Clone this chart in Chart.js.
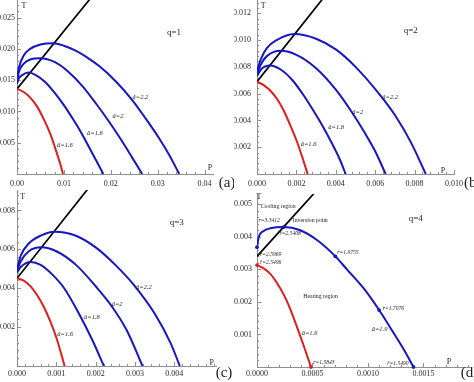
<!DOCTYPE html>
<html><head><meta charset="utf-8">
<script src="https://cdn.jsdelivr.net/npm/chart.js@4.4.1/dist/chart.umd.min.js"></script>
<style>
html,body{margin:0;padding:0;background:#fff;}
body{width:474px;height:382px;position:relative;overflow:hidden;}
canvas{position:absolute;}
</style></head><body>
<canvas id="pa" width="234" height="190" style="left:0px;top:0px"></canvas>
<canvas id="pb" width="240" height="190" style="left:234px;top:0px"></canvas>
<canvas id="pc" width="234" height="192" style="left:0px;top:190px"></canvas>
<canvas id="pd" width="240" height="192" style="left:234px;top:190px"></canvas>
<script>
const BLUE='#1616c2', RED='#e01c1c', BLACK='#000000';
const FONT='"Liberation Serif","Times New Roman",serif';

// ---------- Panel (a): q=1 ----------
const A_XTICKS=[0,0.01,0.02,0.03,0.04];
const A_XLABELS=['0.00','0.01','0.02','0.03','0.04'];
const A_YTICKS=[0.005,0.010,0.015,0.020,0.025];
const A_YLABELS=['0.005','0.010','0.015','0.020','0.025'];
const A_INV=[[0,0.0136],[0.0156,0.0280]];
const A_A16=[[0,0.0136],[0.00143,0.0131],[0.00284,0.0122],[0.00426,0.0108],[0.00568,0.0088],[0.0071,0.0064],[0.00816,0.0041],[0.00923,0.0016],[0.0098,0]];
const A_A18=[[0,0.0144],[0.0004,0.0153],[0.0011,0.0158],[0.0025,0.0162],[0.004,0.0158],[0.006,0.0147],[0.008,0.0130],[0.010,0.0110],[0.012,0.0087],[0.0137,0.0066],[0.0155,0.0041],[0.017,0.0020],[0.0184,0]];
const A_A20=[[0,0.0148],[0.0004,0.0163],[0.0014,0.0176],[0.0028,0.0183],[0.005,0.0185],[0.008,0.0179],[0.011,0.0163],[0.014,0.0140],[0.017,0.0111],[0.0195,0.0085],[0.022,0.0057],[0.0245,0.0027],[0.0267,0]];
const A_A22=[[0,0.0152],[0.0004,0.0170],[0.0014,0.0189],[0.0028,0.0200],[0.005,0.0207],[0.0077,0.0209],[0.010,0.0205],[0.0125,0.0197],[0.015,0.0186],[0.0176,0.0172],[0.0212,0.0147],[0.0247,0.0117],[0.0275,0.0088],[0.0304,0.0056],[0.0325,0.0030],[0.0346,0]];

// ---------- Panel (b): q=2 ----------
const B_XTICKS=[0,0.002,0.004,0.006,0.008,0.010];
const B_XLABELS=['0.000','0.002','0.004','0.006','0.008','0.010'];
const B_YTICKS=[0.002,0.004,0.006,0.008,0.010,0.012];
const B_YLABELS=['0.002','0.004','0.006','0.008','0.010','0.012'];
const B_INV=[[0,0.00689],[0.0034,0.0132]];
const B_A16=[[0,0.00689],[0.00034,0.00664],[0.00068,0.00622],[0.00102,0.0056],[0.00136,0.00472],[0.0017,0.0036],[0.00204,0.00237],[0.0023,0.00125],[0.00257,0]];
const B_A18=[[0,0.0073],[0.0002,0.0078],[0.00065,0.0081],[0.0012,0.0078],[0.0018,0.0070],[0.0024,0.0058],[0.003,0.0044],[0.0034,0.0034],[0.0038,0.0023],[0.0042,0.0011],[0.0045,0]];
const B_A20=[[0,0.0075],[0.0002,0.0082],[0.0005,0.0088],[0.0012,0.0092],[0.002,0.0089],[0.003,0.0079],[0.004,0.0063],[0.0048,0.00465],[0.0055,0.0030],[0.006,0.0017],[0.00653,0]];
const B_A22=[[0,0.0077],[0.0002,0.0086],[0.0005,0.0094],[0.001,0.0100],[0.0019,0.01045],[0.003,0.0101],[0.004,0.0093],[0.005,0.0080],[0.0063,0.0058],[0.007,0.0044],[0.0078,0.0024],[0.00857,0]];

// ---------- Panel (c): q=3 ----------
const C_XTICKS=[0,0.001,0.002,0.003,0.004];
const C_XLABELS=['0.000','0.001','0.002','0.003','0.004'];
const C_YTICKS=[0.002,0.004,0.006,0.008];
const C_YLABELS=['0.002','0.004','0.006','0.008'];
const C_INV=[[0,0.00451],[0.0018,0.0091]];
const C_A16=[[0,0.00451],[0.00017,0.00439],[0.00034,0.00411],[0.00051,0.00365],[0.00068,0.00305],[0.00085,0.00228],[0.00102,0.00134],[0.00121,0]];
const C_A18=[[0,0.0048],[0.0001,0.0051],[0.00035,0.00535],[0.0006,0.0052],[0.0009,0.0047],[0.0012,0.0040],[0.0016,0.0026],[0.0019,0.0014],[0.00221,0]];
const C_A20=[[0,0.0049],[0.0001,0.0054],[0.0003,0.0059],[0.00062,0.0061],[0.001,0.0059],[0.0015,0.0052],[0.002,0.0041],[0.0024,0.0031],[0.0028,0.0018],[0.00319,0]];
const C_A22=[[0,0.0050],[0.0001,0.0057],[0.0003,0.0063],[0.0006,0.0067],[0.00095,0.0069],[0.0015,0.0067],[0.002,0.0061],[0.0025,0.0052],[0.003,0.0041],[0.0035,0.0027],[0.0039,0.0012],[0.00414,0]];

// ---------- Panel (d): q=4 ----------
const D_XTICKS=[0,0.0005,0.0010,0.0015];
const D_XLABELS=['0.0000','0.0005','0.0010','0.0015'];
const D_YTICKS=[0.001,0.002,0.003,0.004,0.005];
const D_YLABELS=['0.001','0.002','0.003','0.004','0.005'];
const D_INV=[[0,0.0034],[0.00055,0.00547]];
const D_A16=[[0,0.00313],[0.00006,0.00303],[0.00012,0.00286],[0.00018,0.00258],[0.00024,0.00223],[0.0003,0.00178],[0.00036,0.00123],[0.00042,0.00066],[0.000486,0]];
const D_A19=[[0,0.00368],[0.000015,0.00398],[0.00006,0.00418],[0.00012,0.00426],[0.00024,0.0043],[0.00039,0.0042],[0.00054,0.0039],[0.000706,0.0034],[0.00081,0.0030],[0.00096,0.00242],[0.0011,0.00175],[0.00123,0.00105],[0.00132,0.00055],[0.00141,0]];
const D_RED_PTS=[[0,0.00313],[0.000486,0]];
const D_BLUE_PTS=[[0,0.00368],[0.00024,0.0043],[0.000706,0.0034],[0.0011,0.00175],[0.00141,0]];

function xy(arr){return arr.map(([x,y])=>({x,y}));}

function marks(ticks, minor, max){
  const out=ticks.map(v=>[v,true]);
  const n=Math.floor(max/minor+1e-6);
  for(let k=1;k<=n;k++){
    const v=k*minor;
    if(!ticks.some(t=>Math.abs(t-v)<minor*0.1)) out.push([v,false]);
  }
  return out;
}

function buildPanel(spec){
  const cv=document.getElementById(spec.id);
  const W=cv.width,H=cv.height,A=spec.area;
  const datasets=spec.series.map(s=>({data:xy(s.data),borderColor:s.color,borderWidth:s.width,
    showLine:true,pointRadius:0,fill:false,cubicInterpolationMode:s.straight?'default':'monotone',tension:0}));
  (spec.dots||[]).forEach(d=>datasets.push({data:xy(d.data),showLine:false,pointRadius:1.9,
    pointBackgroundColor:d.color,pointBorderWidth:0,clip:false}));
  const tickPlugin={id:'tk'+spec.id,beforeDatasetsDraw(chart){
    const {ctx,chartArea:ca,scales:{x,y}}=chart;
    ctx.save();ctx.strokeStyle='#8f8f8f';ctx.lineWidth=1;ctx.beginPath();
    marks(spec.x.ticks,spec.x.minor,spec.x.max).forEach(([v,mj])=>{
      const px=Math.round(x.getPixelForValue(v))+0.5;
      ctx.moveTo(px,ca.bottom);ctx.lineTo(px,ca.bottom-(mj?4:2.2));});
    marks(spec.y.ticks,spec.y.minor,spec.y.max).forEach(([v,mj])=>{
      const py=Math.round(y.getPixelForValue(v))+0.5;
      ctx.moveTo(ca.left,py);ctx.lineTo(ca.left+(mj?4:2.2),py);});
    ctx.stroke();ctx.restore();}};
  const textPlugin={id:'tx'+spec.id,afterDraw(chart){
    const ctx=chart.ctx;ctx.save();ctx.textBaseline='middle';
    spec.texts.forEach(t=>{ctx.font=t.f;ctx.fillStyle=t.c||'#1e1e1e';ctx.textAlign=t.a||'left';ctx.fillText(t.s,t.x,t.y);});
    ctx.restore();}};
  new Chart(cv,{type:'scatter',data:{datasets},
    options:{responsive:false,animation:false,devicePixelRatio:1,
      layout:{padding:{left:0,top:A.t,right:W-A.r,bottom:0}},
      plugins:{legend:{display:false},tooltip:{enabled:false}},
      scales:{
        x:{type:'linear',min:0,max:spec.x.max,bounds:'data',
          afterBuildTicks:s=>{s.ticks=spec.x.ticks.map(v=>({value:v}));},
          afterFit:s=>{s.height=H-A.b;s.paddingLeft=0;s.paddingRight=0;},
          ticks:{callback:(v,i)=>spec.x.labels[i],autoSkip:false,maxRotation:0,minRotation:0,padding:spec.x.pad,
            font:{family:FONT,size:8},color:'#2a2a2a'},
          grid:{display:true,drawOnChartArea:false,drawTicks:false},
          border:{display:true,color:'#8f8f8f',width:1}},
        y:{type:'linear',min:0,max:spec.y.max,bounds:'data',
          afterBuildTicks:s=>{s.ticks=spec.y.ticks.map(v=>({value:v}));},
          afterFit:s=>{s.width=A.l;s.paddingTop=0;s.paddingBottom=0;},
          ticks:{callback:(v,i)=>spec.y.labels[i],autoSkip:false,padding:spec.y.pad,
            font:{family:FONT,size:8},color:'#2a2a2a'},
          grid:{display:true,drawOnChartArea:false,drawTicks:false},
          border:{display:true,color:'#8f8f8f',width:1}}
      }},
    plugins:[tickPlugin,textPlugin]});
}

const LBL='italic 6.5px '+FONT, SML='italic 5.6px '+FONT, REG='5.8px '+FONT;
const AX='8px '+FONT, QF='9px '+FONT, PF='15px '+FONT;

buildPanel({id:'pa',area:{l:17,r:213,t:0,b:174},
  x:{max:0.0418,ticks:A_XTICKS,labels:A_XLABELS,minor:0.002,pad:5},
  y:{max:0.0278,ticks:A_YTICKS,labels:A_YLABELS,minor:0.001,pad:2},
  series:[{data:A_A16,color:RED,width:2},{data:A_A18,color:BLUE,width:2},{data:A_A20,color:BLUE,width:2},
    {data:A_A22,color:BLUE,width:2},{data:A_INV,color:BLACK,width:1.7,straight:true}],
  texts:[{s:'T',x:24,y:6,a:'center',f:AX},{s:'P',x:210,y:168,a:'center',f:AX},
    {s:'q=1',x:174,y:33,a:'center',f:QF},{s:'(a)',x:227,y:183,a:'center',f:PF},
    {s:'ã=1.6',x:57,y:145.7,f:LBL},{s:'ã=1.8',x:87,y:133.3,f:LBL},{s:'ã=2',x:112.5,y:116,f:LBL},{s:'ã=2.2',x:132.5,y:97.3,f:LBL}]});

buildPanel({id:'pb',area:{l:23,r:220,t:0,b:174},
  x:{max:0.0100,ticks:B_XTICKS,labels:B_XLABELS,minor:0.0004,pad:5},
  y:{max:0.01299,ticks:B_YTICKS,labels:B_YLABELS,minor:0.0004,pad:6},
  series:[{data:B_A16,color:RED,width:2},{data:B_A18,color:BLUE,width:2},{data:B_A20,color:BLUE,width:2},
    {data:B_A22,color:BLUE,width:2},{data:B_INV,color:BLACK,width:1.7,straight:true}],
  texts:[{s:'T',x:29.3,y:6,a:'center',f:AX},{s:'P',x:209,y:170.7,a:'center',f:AX},
    {s:'q=2',x:176.7,y:30.7,a:'center',f:QF},{s:'(b)',x:230,y:183,a:'left',f:PF},
    {s:'ã=1.6',x:66.7,y:144,f:LBL},{s:'ã=1.8',x:94.3,y:127.7,f:LBL},{s:'ã=2',x:118.3,y:112.7,f:LBL},{s:'ã=2.2',x:148.3,y:97.7,f:LBL}]});

buildPanel({id:'pc',area:{l:17,r:216,t:0,b:176},
  x:{max:0.00506,ticks:C_XTICKS,labels:C_XLABELS,minor:0.0002,pad:3},
  y:{max:0.00905,ticks:C_YTICKS,labels:C_YLABELS,minor:0.0004,pad:2},
  series:[{data:C_A16,color:RED,width:2},{data:C_A18,color:BLUE,width:2},{data:C_A20,color:BLUE,width:2},
    {data:C_A22,color:BLUE,width:2},{data:C_INV,color:BLACK,width:1.7,straight:true}],
  texts:[{s:'T',x:22.7,y:7.3,a:'center',f:AX},{s:'P',x:211.7,y:172.7,a:'center',f:AX},
    {s:'q=3',x:176.7,y:32.7,a:'center',f:QF},{s:'(c)',x:224,y:182.7,a:'center',f:PF},
    {s:'ã=1.6',x:57.3,y:144,f:LBL},{s:'ã=1.8',x:84,y:127.3,f:LBL},{s:'ã=2',x:111.7,y:114,f:LBL},{s:'ã=2.2',x:136,y:97.3,f:LBL}]});

buildPanel({id:'pd',area:{l:23,r:235,t:0,b:177},
  x:{max:0.00191,ticks:D_XTICKS,labels:D_XLABELS,minor:0.0001,pad:2},
  y:{max:0.005315,ticks:D_YTICKS,labels:D_YLABELS,minor:0.0002,pad:5},
  series:[{data:D_A16,color:RED,width:2},{data:D_A19,color:BLUE,width:2},{data:D_INV,color:BLACK,width:1.7,straight:true}],
  dots:[{data:D_RED_PTS,color:RED},{data:D_BLUE_PTS,color:BLUE}],
  texts:[{s:'T',x:25,y:6.7,a:'center',f:AX},{s:'P',x:215,y:171.7,a:'center',f:AX},
    {s:'q=4',x:181.7,y:28.7,a:'center',f:QF},{s:'(d)',x:226.7,y:182.7,a:'left',f:PF},
    {s:'Cooling region',x:26.7,y:16.7,f:REG},{s:'Inversion point',x:58.7,y:30.7,f:REG},{s:'Heating region',x:69.3,y:106.7,f:REG},
    {s:'r̃=3.3412',x:24.5,y:31,f:SML},{s:'r̃=2.5408',x:45.5,y:43.3,f:SML},{s:'r̃=2.5969',x:26,y:65,f:SML},
    {s:'r̃=2.5496',x:26,y:72.3,f:SML},{s:'r̃=1.9755',x:103.3,y:63,f:SML},{s:'r̃=1.7076',x:148.7,y:119,f:SML},
    {s:'r̃=1.5490',x:153.3,y:173.5,f:SML},{s:'r̃=1.5843',x:79.3,y:173,f:SML},
    {s:'ã=1.6',x:67.7,y:143,f:LBL},{s:'ã=1.9',x:137.7,y:139.5,f:LBL}]});
</script>
</body></html>
